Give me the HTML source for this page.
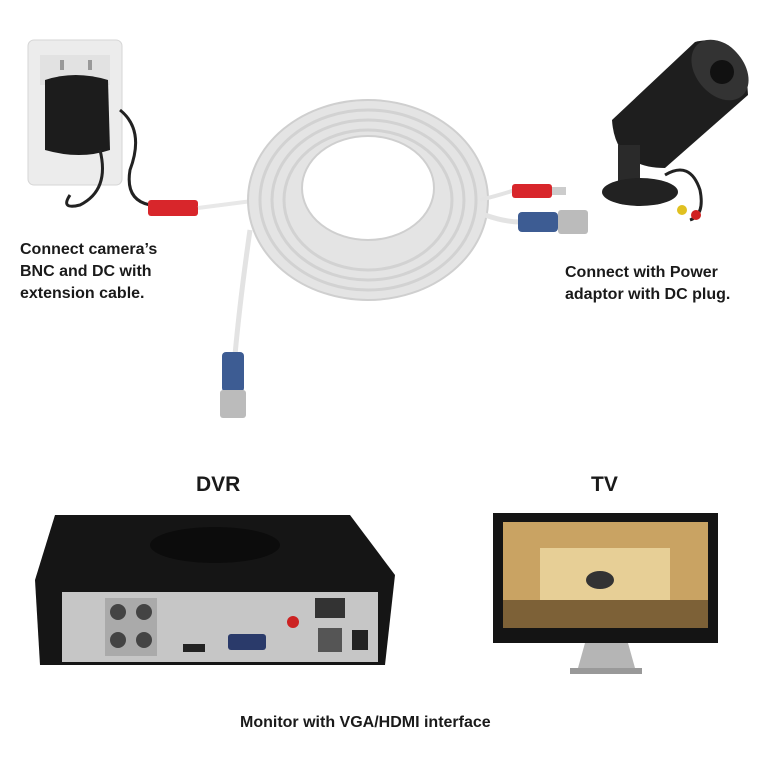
<!DOCTYPE html>
<html><head><meta charset="utf-8"><style>
html,body{margin:0;padding:0;background:#fff;}
body{width:768px;height:768px;position:relative;overflow:hidden;font-family:"Liberation Sans",sans-serif;}
.t{position:absolute;font-size:16px;font-weight:bold;color:#1a1a1a;line-height:22px;}
</style></head><body>
<svg width="768" height="768" style="position:absolute;left:0;top:0">
<!-- wall socket -->
<rect x="28" y="40" width="94" height="145" rx="6" fill="#ececec" stroke="#d6d6d6"/>
<rect x="40" y="55" width="70" height="30" fill="#e2e2e2"/>
<rect x="60" y="60" width="4" height="10" fill="#999"/><rect x="88" y="60" width="4" height="10" fill="#999"/>
<path d="M45 80 Q75 70 108 80 L110 150 Q80 160 45 150 Z" fill="#1c1c1c"/>
<path d="M100 150 Q110 190 80 205 Q60 210 70 195" stroke="#222" stroke-width="3" fill="none"/>
<path d="M120 110 Q145 130 130 170 Q125 200 150 205" stroke="#222" stroke-width="3" fill="none"/>
<!-- left red DC -->
<rect x="148" y="200" width="50" height="16" rx="3" fill="#d8262b"/>
<line x1="198" y1="208" x2="260" y2="200" stroke="#e8e8e8" stroke-width="4"/>
<!-- coil -->
<ellipse cx="368" cy="200" rx="120" ry="100" fill="#e4e4e4" stroke="#cfcfcf" stroke-width="2"/>
<ellipse cx="368" cy="200" rx="108" ry="90" fill="none" stroke="#d2d2d2" stroke-width="3"/>
<ellipse cx="368" cy="200" rx="96" ry="80" fill="none" stroke="#d2d2d2" stroke-width="3"/>
<ellipse cx="368" cy="200" rx="84" ry="70" fill="none" stroke="#d2d2d2" stroke-width="3"/>
<ellipse cx="368" cy="188" rx="66" ry="52" fill="#fff" stroke="#cfcfcf" stroke-width="2"/>
<!-- cable down to BNC -->
<path d="M250 230 Q240 300 235 355" stroke="#e3e3e3" stroke-width="5" fill="none"/>
<rect x="222" y="352" width="22" height="40" rx="4" fill="#3d5c93"/>
<rect x="220" y="390" width="26" height="28" rx="3" fill="#bbb"/>
<!-- right connectors -->
<path d="M480 200 Q500 195 515 190" stroke="#e3e3e3" stroke-width="4" fill="none"/>
<rect x="512" y="184" width="40" height="14" rx="3" fill="#d8262b"/>
<rect x="552" y="187" width="14" height="8" fill="#ccc"/>
<path d="M485 215 Q505 222 520 222" stroke="#e3e3e3" stroke-width="5" fill="none"/>
<rect x="518" y="212" width="40" height="20" rx="4" fill="#3d5c93"/>
<rect x="558" y="210" width="30" height="24" rx="3" fill="#bbb"/>
<!-- camera -->
<path d="M612 120 L695 42 Q745 30 748 95 L665 168 Q615 168 612 120Z" fill="#1e1e1e"/>
<ellipse cx="720" cy="70" rx="24" ry="34" transform="rotate(-40 720 70)" fill="#333"/>
<circle cx="722" cy="72" r="12" fill="#111"/>
<rect x="618" y="145" width="22" height="40" fill="#2a2a2a"/>
<ellipse cx="640" cy="192" rx="38" ry="14" fill="#222"/>
<path d="M665 175 Q690 160 700 190 Q705 215 690 220" stroke="#222" stroke-width="3" fill="none"/>
<circle cx="682" cy="210" r="5" fill="#e0c020"/><circle cx="696" cy="215" r="5" fill="#d02020"/>
<!-- DVR -->
<path d="M55 515 L350 515 L395 575 L385 665 L40 665 L35 580 Z" fill="#151515"/>
<ellipse cx="215" cy="545" rx="65" ry="18" fill="#0c0c0c"/>
<rect x="62" y="592" width="316" height="70" fill="#c6c6c6"/>
<rect x="105" y="598" width="52" height="58" fill="#aaa"/>
<circle cx="118" cy="612" r="8" fill="#444"/><circle cx="144" cy="612" r="8" fill="#444"/>
<circle cx="118" cy="640" r="8" fill="#444"/><circle cx="144" cy="640" r="8" fill="#444"/>
<rect x="183" y="644" width="22" height="8" fill="#222"/>
<rect x="228" y="634" width="38" height="16" rx="3" fill="#2a3a6a"/>
<circle cx="293" cy="622" r="6" fill="#c22"/>
<rect x="315" y="598" width="30" height="20" fill="#333"/>
<rect x="318" y="628" width="24" height="24" fill="#555"/>
<rect x="352" y="630" width="16" height="20" fill="#222"/>
<!-- TV -->
<rect x="493" y="513" width="225" height="130" fill="#141414"/>
<rect x="503" y="522" width="205" height="106" fill="#c9a363"/>
<rect x="540" y="548" width="130" height="55" fill="#e7cf96"/>
<rect x="503" y="600" width="205" height="28" fill="#7d6137"/>
<ellipse cx="600" cy="580" rx="14" ry="9" fill="#333"/>
<path d="M585 643 L628 643 L635 668 L578 668 Z" fill="#b5b5b5"/>
<rect x="570" y="668" width="72" height="6" fill="#999"/>
</svg>
<div class="t" style="left:20px;top:239px">Connect camera’s<br>BNC and DC with<br>extension cable.</div>
<div class="t" style="left:565px;top:262px">Connect with Power<br>adaptor with DC plug.</div>
<div class="t" style="left:196px;top:474px;font-size:21px">DVR</div>
<div class="t" style="left:591px;top:474px;font-size:21px">TV</div>
<div class="t" style="left:240px;top:712px">Monitor with VGA/HDMI interface</div>
</body></html>
